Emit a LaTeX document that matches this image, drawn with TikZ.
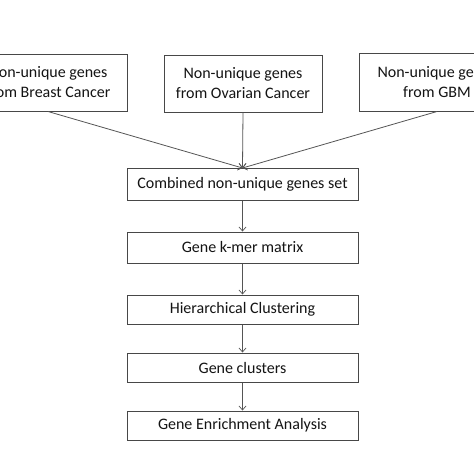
\documentclass[tikz,border=0pt]{standalone}
\usepackage{fontspec}
\setmainfont{Carlito}
\usetikzlibrary{arrows.meta}
\definecolor{boxline}{HTML}{474747}
\definecolor{arrline}{HTML}{555555}
\definecolor{txt}{HTML}{141414}
\tikzset{
  topbox/.style={draw=boxline, line width=1pt, minimum width=158pt, minimum height=57pt, align=center, text=txt, font=\fontsize{16}{20}\selectfont, inner sep=0pt},
  flowbox/.style={draw=boxline, line width=1pt, minimum width=231pt, minimum height=30pt, align=center, text=txt, font=\fontsize{16}{19}\selectfont, inner sep=0pt},
  conn/.style={draw=arrline, line width=0.8pt, -{Straight Barb[length=4pt,width=7pt,line width=0.7pt]}}
}
\begin{document}
\begin{tikzpicture}[x=1pt,y=-1pt]
\useasboundingbox (0,0) rectangle (474,474);
\fill[white] (0,0) rectangle (474,474);
\clip (0,0) rectangle (474,474);
\node[topbox] (breast) at (48,82.5) {Non-unique genes\\from Breast Cancer};
\node[topbox] (ovarian) at (243,83.5) {Non-unique genes\\from Ovarian Cancer};
\node[topbox, minimum width=156pt, minimum height=58pt] (gbm) at (437,82) {Non-unique genes\\from GBM};
\node[flowbox, minimum height=32pt] (comb) at (242.5,184.5) {Combined non-unique genes set};
\node[flowbox, minimum height=31pt] (kmer) at (242.5,247.5) {Gene k-mer matrix};
\node[flowbox, minimum height=29pt] (hier) at (242.5,309.5) {Hierarchical Clustering};
\node[flowbox, minimum height=29pt] (clus) at (242.5,367.5) {Gene clusters};
\node[flowbox, minimum height=29pt] (enr) at (242.5,425.5) {Gene Enrichment Analysis};
\draw[conn] (breast.south) -- (comb.north);
\draw[conn] (ovarian.south) -- (comb.north);
\draw[conn] (gbm.south) -- (comb.north);
\draw[conn] (comb) -- (kmer);
\draw[conn] (kmer) -- (hier);
\draw[conn] (hier) -- (clus);
\draw[conn] (clus) -- (enr);
\end{tikzpicture}
\end{document}
